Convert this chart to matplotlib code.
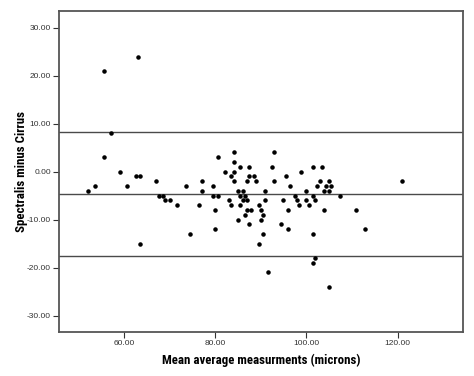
import matplotlib
matplotlib.use("Agg")
import matplotlib.pyplot as plt

# Bland-Altman: mean of the two devices vs difference (Spectralis - Cirrus)
mean_vals = [52.0, 53.6, 55.5, 55.5, 57.1, 59.0, 60.5, 62.5, 63.5, 63.0, 63.5,
             67.0, 67.5, 68.5, 69.0, 70.0, 71.5, 73.5, 74.5, 76.5, 77.0, 77.0,
             79.5, 79.5, 80.0, 80.0, 80.5, 80.5, 82.0, 83.0, 83.5, 83.5, 84.0,
             84.0, 84.0, 84.0, 85.0, 85.0, 85.5, 85.5, 85.5, 86.0, 86.0, 86.5,
             86.5, 86.9, 86.9, 86.9, 87.4, 87.4, 87.4, 87.9, 88.4, 89.0, 89.5,
             89.5, 90.0, 90.0, 90.4, 90.4, 90.9, 90.9, 91.5, 92.4, 92.9, 92.9,
             94.4, 94.9, 95.4, 95.9, 95.9, 96.4, 97.4, 97.9, 98.4, 98.9, 99.9,
             99.9, 100.5, 101.4, 101.4, 101.4, 101.4, 101.9, 101.9, 102.4, 102.9,
             103.4, 103.9, 103.9, 104.4, 104.9, 104.9, 104.9, 105.4, 107.4,
             110.9, 112.9, 120.9]
diff_vals = [-4, -3, 21, 3, 8, 0, -3, -1, -1, 24, -15,
             -2, -5, -5, -6, -6, -7, -3, -13, -7, -2, -4,
             -3, -5, -8, -12, 3, -5, 0, -6, -1, -7, 4,
             2, 0, -2, -10, -4, 1, -5, -7, -4, -6, -5,
             -9, -2, -6, -8, 1, -1, -11, -8, -1, -2, -7,
             -15, -8, -10, -9, -13, -4, -6, -21, 1, 4, -2,
             -11, -6, -1, -8, -12, -3, -5, -6, -7, 0, -4,
             -6, -7, 1, -5, -13, -19, -6, -18, -3, -2,
             1, -4, -8, -3, -2, -4, -24, -3, -5,
             -8, -12, -2]

mean_diff = -4.65
upper_loa = 8.18
lower_loa = -17.6

y_ticks = [30, 20, 10, 0, -10, -20, -30]
x_ticks = [60, 80, 100, 120]

label_fonts = ["Liberation Sans Narrow", "Roboto Condensed", "DejaVu Sans"]

fig = plt.figure(figsize=(4.74, 3.76), dpi=100)
ax = fig.add_axes([0.125, 0.117, 0.851, 0.854])

ax.scatter(mean_vals, diff_vals, s=5, color="black", zorder=3)
for yv in [upper_loa, mean_diff, lower_loa]:
    ax.axhline(yv, color="#4a4a4a", linewidth=1.0)

ax.set_xlim(45.7, 134.3)
ax.set_ylim(-33.4, 33.5)
ax.set_xticks(x_ticks)
ax.set_yticks(y_ticks)
ax.set_xticklabels([f"{v:.2f}" for v in x_ticks])
ax.set_yticklabels([f"{v:.2f}" for v in y_ticks])
ax.tick_params(axis="both", labelsize=6, colors="#333333", length=4,
               width=0.8, direction="out", top=False, right=False, pad=2)
for label in ax.get_xticklabels() + ax.get_yticklabels():
    label.set_family("Liberation Sans")

for sp in ax.spines.values():
    sp.set_color("#555555")
    sp.set_linewidth(1.3)

ax.set_xlabel("Mean average measurments (microns)", fontsize=9.3,
              fontweight="bold", family=label_fonts)
ax.set_ylabel("Spectralis minus Cirrus", fontsize=9.3,
              fontweight="bold", family=label_fonts)
ax.xaxis.set_label_coords(0.5, -0.068)
ax.yaxis.set_label_coords(-0.078, 0.5)

fig.savefig("out.png", dpi=100)
